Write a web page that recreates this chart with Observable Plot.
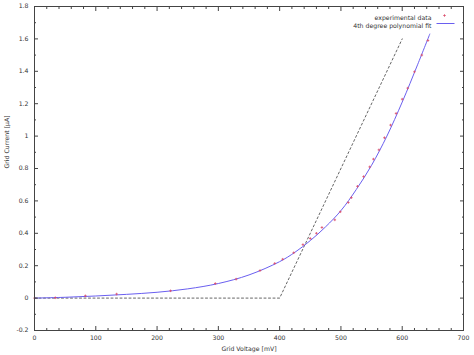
<!DOCTYPE html>
<html><head><meta charset="utf-8">
<script src="https://cdn.jsdelivr.net/npm/d3@7"></script>
<script src="https://cdn.jsdelivr.net/npm/@observablehq/plot@0.6"></script>
<style>body{margin:0;background:#fff}</style>
</head><body><div id="chart"></div>
<script>
const voltage = [0, 34, 83, 134, 222, 295, 329, 368, 392, 405, 423, 438, 450, 460, 469, 490, 499, 512, 517, 527, 537, 547, 553, 562, 571, 581, 590, 600, 609, 620, 632, 642];
const current = [0, 0.002, 0.014, 0.025, 0.045, 0.09, 0.117, 0.17, 0.214, 0.24, 0.28, 0.33, 0.368, 0.40, 0.436, 0.483, 0.533, 0.59, 0.62, 0.69, 0.75, 0.81, 0.858, 0.915, 0.99, 1.068, 1.14, 1.228, 1.296, 1.397, 1.50, 1.59];
// 4th degree polynomial fit
const fitVoltage = [0, 50, 100, 150, 200, 250, 300, 350, 400, 425, 450, 475, 500, 525, 550, 575, 600, 625, 645];
const fitCurrent = [0, 0.005, 0.013, 0.023, 0.036, 0.057, 0.09, 0.143, 0.225, 0.283, 0.355, 0.44, 0.54, 0.67, 0.82, 1.0, 1.21, 1.44, 1.63];
// dashed linear guide
const guideVoltage = [0, 400, 600];
const guideCurrent = [0, 0, 1.6];
// ticks
const xTicks = [0, 100, 200, 300, 400, 500, 600, 700];
const xMinorTicks = [20,40,60,80,120,140,160,180,220,240,260,280,320,340,360,380,420,440,460,480,520,540,560,580,620,640,660,680];
const yTicks = [-0.2, 0, 0.2, 0.4, 0.6, 0.8, 1, 1.2, 1.4, 1.6, 1.8];
const yMinorTicks = [-0.1, 0.1, 0.3, 0.5, 0.7, 0.9, 1.1, 1.3, 1.5, 1.7];
const legendLabels = ["experimental data", "4th degree polynomial fit"];
const xLabel = "Grid Voltage [mV]";
const yLabel = "Grid Current [µA]";

const points = voltage.map((v, i) => ({v, c: current[i]}));
const fit = fitVoltage.map((v, i) => ({v, c: fitCurrent[i]}));
const guide = guideVoltage.map((v, i) => ({v, c: guideCurrent[i]}));

const axisColor = "#444";
const textColor = "#333";
const pointColor = "#d94a6a";
const lineColor = "#6a5ff0";
// legend line sample as a custom symbol (half-length 9px)
const legendLineSymbol = {draw(ctx) { ctx.moveTo(-9, 0); ctx.lineTo(9, 0); }};

const chart = Plot.plot({
  width: 474,
  height: 355,
  marginLeft: 34,
  marginRight: 11,
  marginTop: 6,
  marginBottom: 25,
  style: {fontFamily: "DejaVu Sans", fontSize: "6.2px", background: "#fff", color: textColor},
  x: {domain: [0, 700], axis: null},
  y: {domain: [-0.2, 1.8], axis: null},
  marks: [
    Plot.line(guide, {x: "v", y: "c", stroke: "#555", strokeWidth: 0.9, strokeDasharray: "2,2.5"}),
    Plot.line(fit, {x: "v", y: "c", stroke: lineColor, strokeWidth: 1, curve: "catmull-rom"}),
    Plot.dot(points, {x: "v", y: "c", symbol: "plus", r: 0.9, stroke: pointColor, strokeWidth: 0.8}),
    Plot.frame({stroke: axisColor, strokeWidth: 1}),
    // inward ticks on all four sides
    Plot.axisX(xTicks, {anchor: "bottom", tickSize: -4, fill: "none", stroke: axisColor}),
    Plot.axisX(xMinorTicks, {anchor: "bottom", tickSize: -2, fill: "none", stroke: axisColor}),
    Plot.axisX(xTicks, {anchor: "top", tickSize: -4, fill: "none", stroke: axisColor}),
    Plot.axisX(xMinorTicks, {anchor: "top", tickSize: -2, fill: "none", stroke: axisColor}),
    Plot.axisY(yTicks, {anchor: "left", tickSize: -4, fill: "none", stroke: axisColor}),
    Plot.axisY(yMinorTicks, {anchor: "left", tickSize: -2, fill: "none", stroke: axisColor}),
    Plot.axisY(yTicks, {anchor: "right", tickSize: -4, fill: "none", stroke: axisColor}),
    Plot.axisY(yMinorTicks, {anchor: "right", tickSize: -2, fill: "none", stroke: axisColor}),
    // tick labels
    Plot.axisX(xTicks, {anchor: "bottom", tickSize: 0, tickPadding: 5, label: null, fill: textColor, tickFormat: d => String(d)}),
    Plot.axisY(yTicks, {anchor: "left", tickSize: 0, tickPadding: 6, label: null, fill: textColor, tickFormat: d => String(d)}),
    // axis titles
    Plot.text([xLabel], {text: d => d, frameAnchor: "bottom", dy: 20, fill: textColor}),
    Plot.text([yLabel], {text: d => d, frameAnchor: "left", dx: -27, rotate: -90, fill: textColor}),
    // legend
    Plot.text([legendLabels[0]], {text: d => d, frameAnchor: "top-right", textAnchor: "end", dx: -32, dy: 9, fill: textColor}),
    Plot.dot([legendLabels[0]], {frameAnchor: "top-right", dx: -19, dy: 9, symbol: "plus", r: 0.9, stroke: pointColor, strokeWidth: 0.8}),
    Plot.text([legendLabels[1]], {text: d => d, frameAnchor: "top-right", textAnchor: "end", dx: -32, dy: 17, fill: textColor}),
    Plot.dot([legendLabels[1]], {frameAnchor: "top-right", dx: -18, dy: 17, symbol: legendLineSymbol, stroke: lineColor, strokeWidth: 1})
  ]
});
document.getElementById("chart").appendChild(chart);
</script>
</body></html>
